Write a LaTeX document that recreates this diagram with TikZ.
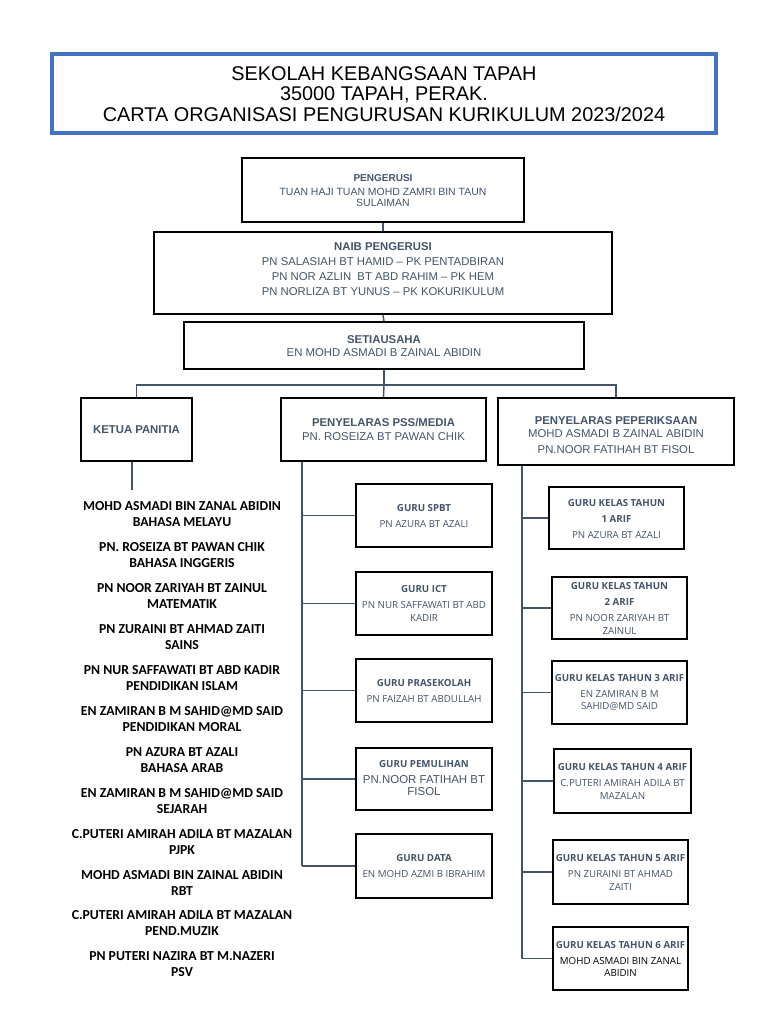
\documentclass[tikz,border=0pt]{standalone}
\usepackage{fontspec}
\setmainfont{Liberation Sans}
\newfontfamily\calib{Carlito}
\newfontfamily\opens{Open Sans}
\definecolor{slate}{RGB}{68,84,106}
\definecolor{tblue}{RGB}{68,114,196}
\newcommand\pemfont{\rmfamily\mdseries\fontsize{8.6}{7.5}\selectfont}
\tikzset{
  frame/.style={draw=black, line width=1.5pt, inner sep=0pt},
  tframe/.style={draw=tblue, line width=3pt, inner sep=0pt},
  ttxt/.style={align=center, inner sep=0pt, text=black, font=\fontsize{14.9}{15.2}\selectfont},
  btxt/.style={align=center, inner sep=0pt, text=slate, font=\fontsize{8.5}{11.25}\selectfont},
  ptxt/.style={align=center, inner sep=0pt, text=slate, font=\fontsize{7.85}{8.25}\selectfont},
  stxt/.style={align=center, inner sep=0pt, text=slate, font=\opens\fontsize{7.3}{9.4}\selectfont},
  conn/.style={draw=slate, line width=1.1pt},
  listtxt/.style={align=center, text=black, font=\calib\bfseries\fontsize{10.3}{12}\selectfont},
}
% #1 name, #2 x1, #3 y1, #4 x2, #5 y2, #6 frame style, #7 text style, #8 dy (px), #9 text
\newcommand\mybox[9]{%
  \node[#6, minimum width={(#4-#2)*0.75pt}, minimum height={(#5-#3)*0.75pt}] (#1) at ({(#2+#4)/2},{(#3+#5)/2}) {};
  \node[#7] (#1-t) at ([yshift={-(#8)*0.75pt}]#1.center) {#9};
}
\begin{document}
\begin{tikzpicture}[x=0.75pt,y=-0.75pt]
\fill[white] (0,0) rectangle (768,1024);
\useasboundingbox (0,0) rectangle (768,1024);

\mybox{title}{52}{54}{716}{133}{tframe}{ttxt}{0.5}{SEKOLAH KEBANGSAAN TAPAH\\35000 TAPAH, PERAK.\\CARTA ORGANISASI PENGURUSAN KURIKULUM 2023/2024}

\mybox{peng}{242}{158}{524}{222}{frame}{ptxt}{0.5}{\textbf{\fontsize{7.5}{8.25}\selectfont PENGERUSI}\\[2.25pt]TUAN HAJI TUAN MOHD ZAMRI BIN TAUN\\SULAIMAN}
\mybox{naib}{154}{232}{612}{314}{frame}{btxt}{-3.5}{\textbf{NAIB PENGERUSI}\\PN SALASIAH BT HAMID -- PK PENTADBIRAN\\PN NOR AZLIN\ \ BT ABD RAHIM -- PK HEM\\PN NORLIZA BT YUNUS -- PK KOKURIKULUM}
\mybox{set}{184}{322}{584}{369}{frame}{btxt}{1}{\textbf{SETIAUSAHA}\\[-1.5pt]EN MOHD ASMADI B ZAINAL ABIDIN}

\mybox{ketua}{81}{398}{192}{461}{frame}{btxt}{0.5}{\textbf{KETUA PANITIA}}
\mybox{pss}{281}{398}{486}{461}{frame}{btxt}{-0.5}{\textbf{PENYELARAS PSS/MEDIA}\\[-0.75pt]PN. ROSEIZA BT PAWAN CHIK}
\mybox{pep}{498}{398}{734}{465}{frame}{btxt}{4}{\textbf{PENYELARAS PEPERIKSAAN}\\[-1.5pt]MOHD ASMADI B ZAINAL ABIDIN\\[0.75pt]PN.NOOR FATIHAH BT FISOL}

% connectors top
\coordinate (j) at (384,385);
\draw[conn] (peng.south) -- (naib.north);
\draw[conn] (naib.south) -- (set.north);
\draw[conn] (set.south) -- (j);
\draw[conn] (ketua.north) |- (j) -| (pep.north);
\draw[conn] (j) -- (pss.north);
\coordinate (kl) at (132,490);
\draw[conn] (kl |- ketua.south) -- (kl);

% middle column
\mybox{spbt}{356}{484}{492}{547}{frame}{stxt}{0.5}{\textbf{GURU SPBT}\\[2.6pt]PN AZURA BT AZALI}
\mybox{ict}{356}{572}{492}{635}{frame}{stxt}{0}{\textbf{GURU ICT}\\[2.6pt]PN NUR SAFFAWATI BT ABD\\KADIR}
\mybox{pra}{356}{659}{492}{722}{frame}{stxt}{0.5}{\textbf{GURU PRASEKOLAH}\\[2.6pt]PN FAIZAH BT ABDULLAH}
\mybox{pem}{356}{748}{492}{810}{frame}{stxt}{-1}{\textbf{GURU PEMULIHAN}\\[2.6pt]\pemfont PN.NOOR FATIHAH BT\\\pemfont FISOL}
\mybox{data}{356}{834}{492}{898}{frame}{stxt}{0}{\textbf{GURU DATA}\\[2.6pt]EN MOHD AZMI B IBRAHIM}

\coordinate (mx) at (302,0);
\draw[conn] (pss.south -| mx) -- (data.west -| mx);
\foreach \n in {spbt,ict,pra,pem,data} \draw[conn] (\n.west -| mx) -- (\n.west);

% right column
\mybox{k1}{549}{487}{684}{549}{frame}{stxt}{1.5}{\textbf{GURU KELAS TAHUN}\\[2.6pt]\textbf{1 ARIF}\\[2.6pt]PN AZURA BT AZALI}
\mybox{k2}{552}{577}{687}{639}{frame}{stxt}{0.5}{\textbf{GURU KELAS TAHUN}\\[2.6pt]\textbf{2 ARIF}\\[2.6pt]PN NOOR ZARIYAH BT\\ZAINUL}
\mybox{k3}{552}{661}{687}{724}{frame}{stxt}{0}{\textbf{GURU KELAS TAHUN 3 ARIF}\\[2.6pt]EN ZAMIRAN B M\\SAHID@MD SAID}
\mybox{k4}{554}{749}{691}{813}{frame}{stxt}{0.5}{\textbf{GURU KELAS TAHUN 4 ARIF}\\[2.6pt]C.PUTERI AMIRAH ADILA BT\\MAZALAN}
\mybox{k5}{553}{840}{688}{904}{frame}{stxt}{0.5}{\textbf{GURU KELAS TAHUN 5 ARIF}\\[2.6pt]PN ZURAINI BT AHMAD\\ZAITI}
\mybox{k6}{553}{927}{688}{990}{frame}{stxt}{0.5}{\textbf{GURU KELAS TAHUN 6 ARIF}\\[2.6pt]\textcolor{black}{MOHD ASMADI BIN ZANAL}\\\textcolor{black}{ABIDIN}}

\coordinate (rx) at (522,0);
\draw[conn] (pep.south -| rx) -- (k6.west -| rx);
\foreach \n in {k1,k2,k3,k4,k5,k6} \draw[conn] (\n.west -| rx) -- (\n.west);

% left list
\foreach \a/\b [count=\i from 0] in {
  MOHD ASMADI BIN ZANAL ABIDIN/BAHASA MELAYU,
  PN. ROSEIZA BT PAWAN CHIK/BAHASA INGGERIS,
  PN NOOR ZARIYAH BT ZAINUL/MATEMATIK,
  PN ZURAINI BT AHMAD ZAITI/SAINS,
  PN NUR SAFFAWATI BT ABD KADIR/PENDIDIKAN ISLAM,
  EN ZAMIRAN B M SAHID@MD SAID/PENDIDIKAN MORAL,
  PN AZURA BT AZALI/BAHASA ARAB,
  EN ZAMIRAN B M SAHID@MD SAID/SEJARAH,
  C.PUTERI AMIRAH ADILA BT MAZALAN/PJPK,
  MOHD ASMADI BIN ZAINAL ABIDIN/RBT,
  C.PUTERI AMIRAH ADILA BT MAZALAN/PEND.MUZIK,
  PN PUTERI NAZIRA BT M.NAZERI/PSV}
  \node[listtxt] (l\i) at (182,{514.5+40.9*\i}) {\a\\\b};
\end{tikzpicture}
\end{document}
